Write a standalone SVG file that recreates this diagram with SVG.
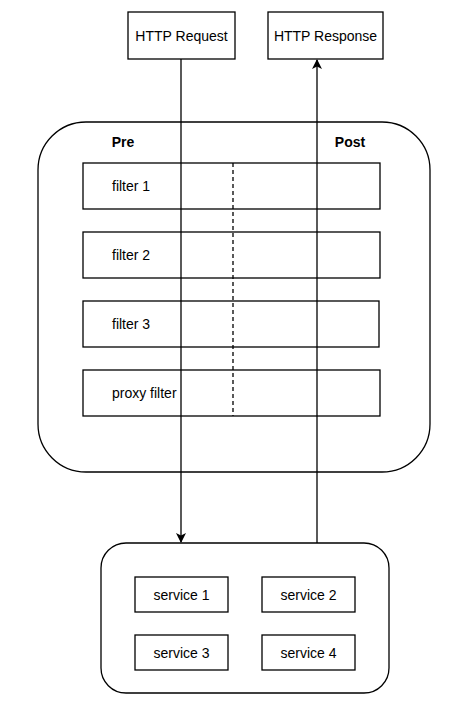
<svg xmlns="http://www.w3.org/2000/svg" width="474" height="704" viewBox="0 0 474 704">
<style>
  .box { fill: #fff; stroke: #000; stroke-width: 1.3; }
  .t { font-family: "Liberation Sans", Arial, sans-serif; font-size: 14px; fill: #000; }
  .c { text-anchor: middle; }
  .b { font-weight: bold; }
  .ln { stroke: #000; stroke-width: 1.3; fill: none; }
</style>
<defs>
  <marker id="arr" viewBox="0 0 10 10" refX="9" refY="5" markerWidth="10" markerHeight="10" markerUnits="userSpaceOnUse" orient="auto">
    <path d="M0,0 L10,5 L0,10 L2.5,5 Z" fill="#000"/>
  </marker>
</defs>
<rect width="474" height="704" fill="#fff"/>
<g id="gateway">
  <rect class="box" x="38" y="122" width="392" height="350" rx="48" ry="48"/>
  <text class="t b c" x="123" y="147">Pre</text>
  <text class="t b c" x="350" y="147">Post</text>
</g>
<g id="filter1"><rect class="box" x="83" y="163" width="297" height="46"/><text class="t" x="112" y="191">filter 1</text></g>
<g id="filter2"><rect class="box" x="83" y="232" width="297" height="46"/><text class="t" x="112" y="260">filter 2</text></g>
<g id="filter3"><rect class="box" x="83" y="301" width="296" height="46"/><text class="t" x="112" y="329">filter 3</text></g>
<g id="proxyfilter"><rect class="box" x="83" y="370" width="297" height="46"/><text class="t" x="112" y="398">proxy filter</text></g>
<g id="divider"><line x1="233" y1="163" x2="233" y2="416" stroke="#000" stroke-width="1.3" stroke-dasharray="4,3"/></g>
<g id="services">
  <rect class="box" x="101" y="543" width="288" height="150" rx="25" ry="25"/>
</g>
<g id="service1"><rect class="box" x="135" y="577" width="93" height="35"/><text class="t c" x="181.5" y="600">service 1</text></g>
<g id="service2"><rect class="box" x="262" y="577" width="93" height="35"/><text class="t c" x="308.5" y="600">service 2</text></g>
<g id="service3"><rect class="box" x="135" y="635" width="93" height="35"/><text class="t c" x="181.5" y="658">service 3</text></g>
<g id="service4"><rect class="box" x="262" y="635" width="93" height="35"/><text class="t c" x="308.5" y="658">service 4</text></g>
<g id="request"><rect class="box" x="128" y="12" width="107" height="47"/><text class="t c" x="181.5" y="41">HTTP Request</text></g>
<g id="response"><rect class="box" x="268" y="12" width="115" height="47"/><text class="t c" x="325.5" y="41">HTTP Response</text></g>
<g id="connectors">
  <line class="ln" x1="181" y1="59" x2="181" y2="542" marker-end="url(#arr)"/>
  <line class="ln" x1="317" y1="543" x2="317" y2="60" marker-end="url(#arr)"/>
</g>
</svg>
